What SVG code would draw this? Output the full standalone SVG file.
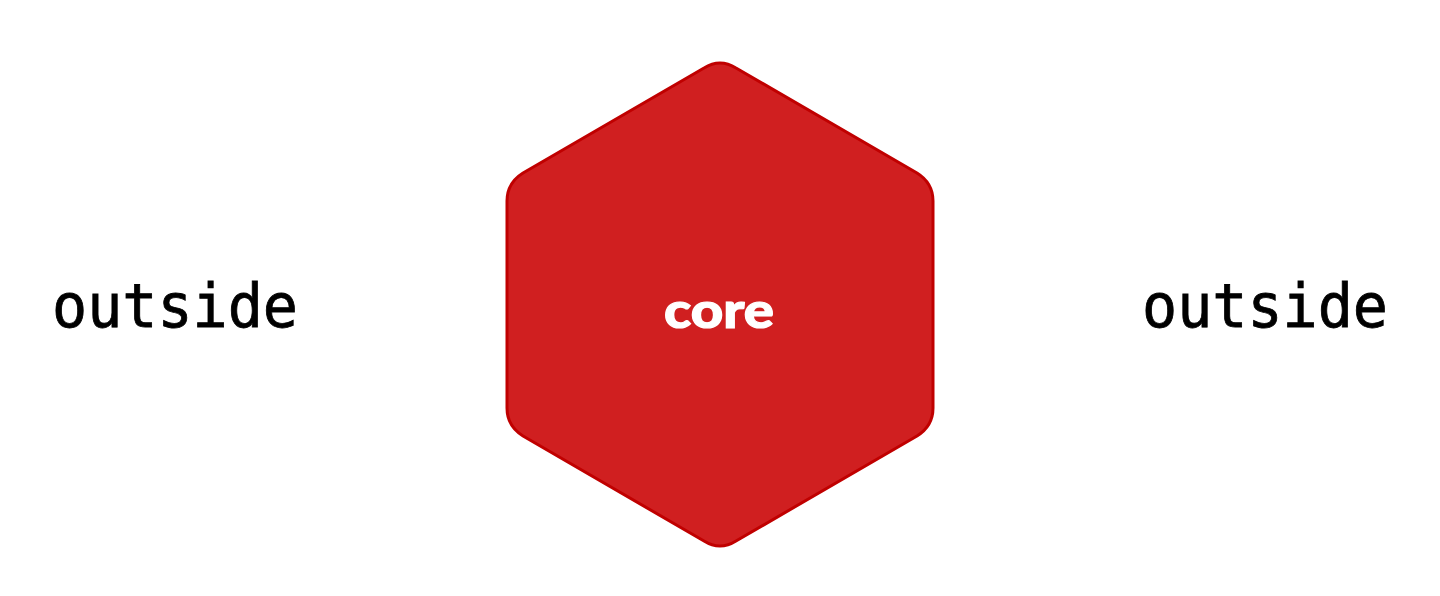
<svg xmlns="http://www.w3.org/2000/svg" width="1440" height="596" viewBox="0 0 1440 596">
<style>
.outside{font-family:"DejaVu Sans Mono","Liberation Mono",monospace;font-size:60px;fill:#000;stroke:#000;stroke-width:0.8;text-anchor:middle}
.hex{fill:#D01F20;stroke:#C00000;stroke-width:3;stroke-linejoin:round}
.core{font-family:Lato,"Open Sans",sans-serif;font-weight:900;font-size:50px;fill:#fff;stroke:#fff;stroke-width:1.2;text-anchor:middle}
</style>
<rect width="1440" height="596" fill="#fff"/>
<g id="outside-left"><text class="outside" x="175" y="327" textLength="246" lengthAdjust="spacingAndGlyphs">outside</text></g>
<g id="core">
<path class="hex" d="M704,68 Q720,58 736,68 L917,173 Q933,183 933,201 L933,408 Q933,426 917,436 L736,541 Q720,551 704,541 L523,436 Q507,426 507,408 L507,201 Q507,183 523,173 Z"/>
<text class="core" x="719" y="328" textLength="110" lengthAdjust="spacingAndGlyphs">core</text>
</g>
<g id="outside-right"><text class="outside" x="1265" y="327" textLength="246" lengthAdjust="spacingAndGlyphs">outside</text></g>
<g id="connectors"></g>
</svg>
